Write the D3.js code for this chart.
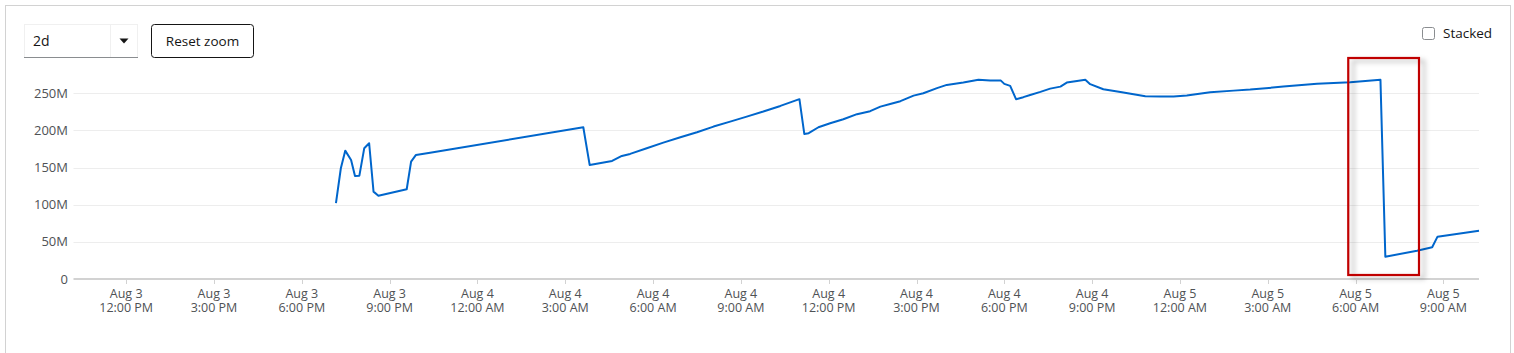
<!DOCTYPE html>
<html>
<head>
<meta charset="utf-8">
<script src="https://cdn.jsdelivr.net/npm/d3@7"></script>
<style>
  html, body { margin: 0; padding: 0; background: #fff; }
  svg { display: block; font-family: "Open Sans", "Noto Sans", sans-serif; }
</style>
</head>
<body>
<svg id="chart" width="1514" height="353"></svg>
<script>
// ---- data ----
const times = [
  "2023-08-03 19:10","2023-08-03 19:20","2023-08-03 19:29","2023-08-03 19:41","2023-08-03 19:49",
  "2023-08-03 19:58","2023-08-03 20:08","2023-08-03 20:18","2023-08-03 20:27","2023-08-03 20:37",
  "2023-08-03 21:35","2023-08-03 21:44","2023-08-03 21:54","2023-08-03 22:23",
  "2023-08-04 03:37","2023-08-04 03:50","2023-08-04 04:36","2023-08-04 04:56","2023-08-04 05:13",
  "2023-08-04 05:47","2023-08-04 06:21","2023-08-04 06:56","2023-08-04 07:30","2023-08-04 08:04",
  "2023-08-04 08:38","2023-08-04 09:12","2023-08-04 09:46","2023-08-04 10:21","2023-08-04 11:00",
  "2023-08-04 11:10","2023-08-04 11:19","2023-08-04 11:39","2023-08-04 12:03","2023-08-04 12:30",
  "2023-08-04 12:58","2023-08-04 13:25","2023-08-04 13:46","2023-08-04 14:06","2023-08-04 14:27",
  "2023-08-04 14:54","2023-08-04 15:14","2023-08-04 15:42","2023-08-04 16:02","2023-08-04 16:36",
  "2023-08-04 17:07","2023-08-04 17:31","2023-08-04 17:53","2023-08-04 18:00","2023-08-04 18:12",
  "2023-08-04 18:24","2023-08-04 18:39","2023-08-04 18:53","2023-08-04 19:14","2023-08-04 19:34",
  "2023-08-04 19:55","2023-08-04 20:08","2023-08-04 20:29","2023-08-04 20:46","2023-08-04 20:56",
  "2023-08-04 21:23","2023-08-04 21:58","2023-08-04 22:25","2023-08-04 22:49","2023-08-04 23:20",
  "2023-08-04 23:47","2023-08-05 00:14","2023-08-05 01:02","2023-08-05 01:50","2023-08-05 02:24",
  "2023-08-05 03:32","2023-08-05 04:41","2023-08-05 05:49","2023-08-05 06:51","2023-08-05 07:01",
  "2023-08-05 08:06","2023-08-05 08:37","2023-08-05 08:48","2023-08-05 10:13"
];
const values = [
  102.0,149.1,172.8,160.3,138.7,
  139.1,176.1,182.8,117.6,112.2,
  120.8,158.0,167.0,170.1,
  204.3,153.6,158.9,165.7,168.4,
  176.1,183.6,190.9,197.6,205.2,
  211.9,218.6,225.4,233.0,242.1,
  195.3,196.3,204.3,209.7,215.1,
  221.9,225.9,232.1,235.7,239.4,
  246.9,250.1,256.9,261.3,264.4,
  268.1,267.1,267.1,262.7,260.0,
  242.1,244.8,247.8,251.9,256.3,
  259.0,264.4,266.7,268.1,262.3,
  255.5,251.9,248.8,246.1,245.6,
  245.6,246.9,251.5,253.6,255.0,
  259.0,262.7,265.0,268.1,30.0,
  38.1,42.7,57.0,65.1
].map(v => v * 1e6);
const yTicks = [0, 50e6, 100e6, 150e6, 200e6, 250e6];
const timeDomain = ["2023-08-03 10:12", "2023-08-05 10:13"];
const highlightRange = ["2023-08-05 05:45", "2023-08-05 08:10"];
const rangeOption = "2d";

// ---- setup ----
const parse = d3.timeParse("%Y-%m-%d %H:%M");
const data = times.map((t, i) => ({ t: parse(t), v: values[i] }));

const svg = d3.select("#chart");
const x = d3.scaleTime().domain(timeDomain.map(parse)).range([73.5, 1479]);
const y = d3.scaleLinear().domain([0, 250e6]).range([279, 93.3]);

// defs: shadow
const defs = svg.append("defs");
const f = defs.append("filter").attr("id", "shadow")
  .attr("x", "-20%").attr("y", "-10%").attr("width", "150%").attr("height", "130%");
f.append("feDropShadow").attr("dx", 5).attr("dy", 3).attr("stdDeviation", 2.5)
  .attr("flood-color", "#000").attr("flood-opacity", 0.28);

// outer card border
svg.append("rect").attr("x", 5.5).attr("y", 5.5).attr("width", 1505).attr("height", 360)
  .attr("fill", "none").attr("stroke", "#d2d2d2").attr("stroke-width", 1);

// ---- controls ----
const sel = svg.append("g");
sel.append("rect").attr("x", 24.5).attr("y", 24.5).attr("width", 113).attr("height", 33)
  .attr("fill", "#fff").attr("stroke", "#f0f0f0");
sel.append("line").attr("x1", 24).attr("x2", 138).attr("y1", 57.5).attr("y2", 57.5)
  .attr("stroke", "#8a8d90");
sel.append("line").attr("x1", 110.5).attr("x2", 110.5).attr("y1", 25).attr("y2", 57)
  .attr("stroke", "#f0f0f0");
sel.append("text").attr("x", 33).attr("y", 46).attr("font-size", 14).attr("fill", "#151515").text(rangeOption);
sel.append("path").attr("d", "M119.5,38.5 L128.5,38.5 L124,43.5 Z").attr("fill", "#151515");

const btn = svg.append("g");
btn.append("rect").attr("x", 151.5).attr("y", 24.5).attr("width", 102).attr("height", 33).attr("rx", 3)
  .attr("fill", "#fff").attr("stroke", "#151515");
btn.append("text").attr("x", 202.5).attr("y", 46).attr("text-anchor", "middle")
  .attr("font-size", 13.5).attr("fill", "#151515").text("Reset zoom");

const chk = svg.append("g");
chk.append("rect").attr("x", 1422.5).attr("y", 27.5).attr("width", 12).attr("height", 12).attr("rx", 2)
  .attr("fill", "#fff").attr("stroke", "#8a8d90");
chk.append("text").attr("x", 1443).attr("y", 38).attr("font-size", 13.5).attr("fill", "#151515").text("Stacked");

// ---- grid ----
svg.append("g").selectAll("line").data(yTicks.filter(d => d > 0)).join("line")
  .attr("x1", 73.5).attr("x2", 1479)
  .attr("y1", d => Math.round(y(d)) + 0.5).attr("y2", d => Math.round(y(d)) + 0.5)
  .attr("stroke", "#ededed").attr("stroke-width", 1);

// y labels
svg.append("g").selectAll("text").data(yTicks).join("text")
  .attr("x", 68).attr("y", d => y(d)).attr("dy", "0.35em")
  .attr("text-anchor", "end").attr("font-size", 13).attr("fill", "#4f5255")
  .text(d => d === 0 ? "0" : d3.format("~s")(d));

// x axis
const xTicks = x.ticks(d3.timeHour.every(3));
const axisG = svg.append("g");
axisG.append("line").attr("x1", 73.5).attr("x2", 1479).attr("y1", 279).attr("y2", 279)
  .attr("stroke", "#d2d2d2").attr("stroke-width", 2);
axisG.selectAll("line.tick").data(xTicks).join("line").attr("class", "tick")
  .attr("x1", d => Math.round(x(d)) + 0.5).attr("x2", d => Math.round(x(d)) + 0.5)
  .attr("y1", 280).attr("y2", 284).attr("stroke", "#d2d2d2");
const fDay = d3.timeFormat("%b %-d"), fTime = d3.timeFormat("%-I:%M %p");
axisG.selectAll("text.td").data(xTicks).join("text").attr("class", "td")
  .attr("text-anchor", "middle").attr("font-size", 12.5).attr("fill", "#4f5255")
  .attr("x", d => x(d)).attr("y", 297.5).text(d => fDay(d));
axisG.selectAll("text.tt").data(xTicks).join("text").attr("class", "tt")
  .attr("text-anchor", "middle").attr("font-size", 12.5).attr("fill", "#4f5255")
  .attr("x", d => x(d)).attr("y", 311.5).text(d => fTime(d));

// line
const line = d3.line().x(d => x(d.t)).y(d => y(d.v));
svg.append("path").datum(data).attr("d", line)
  .attr("fill", "none").attr("stroke", "#0066cc").attr("stroke-width", 2)
  .attr("stroke-linejoin", "round");

// highlight box
const hx0 = x(parse(highlightRange[0])), hx1 = x(parse(highlightRange[1]));
svg.append("rect").attr("x", hx0).attr("y", 58).attr("width", hx1 - hx0).attr("height", 217)
  .attr("fill", "none").attr("stroke", "#c00000").attr("stroke-width", 2.2)
  .attr("filter", "url(#shadow)");
</script>
</body>
</html>
